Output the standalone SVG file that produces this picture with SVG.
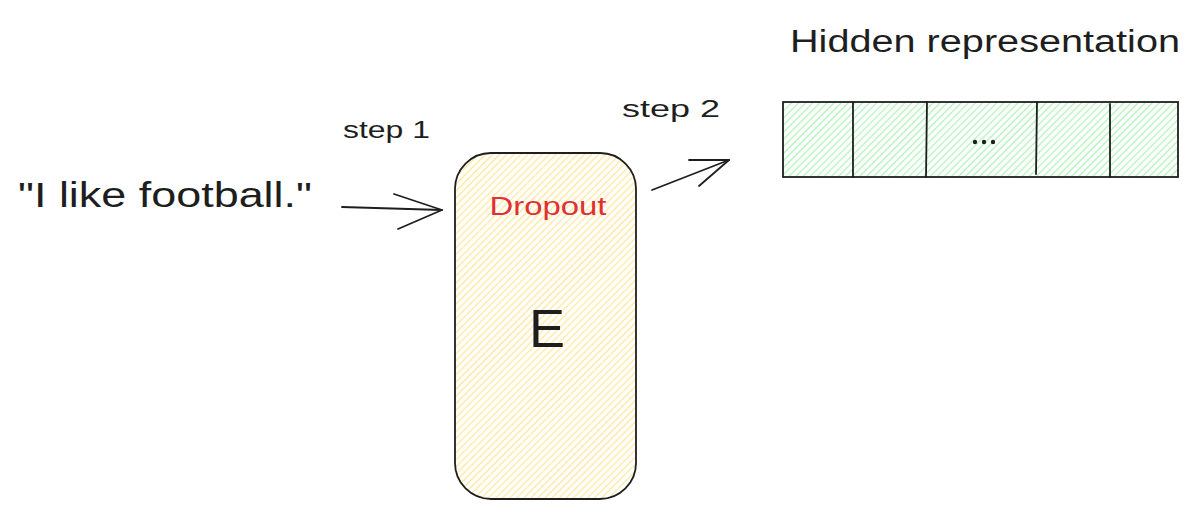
<svg xmlns="http://www.w3.org/2000/svg" width="1200" height="518" viewBox="0 0 1200 518">
  <defs>
    <pattern id="hatchY" patternUnits="userSpaceOnUse" width="5" height="5" patternTransform="rotate(-45)">
      <rect width="5" height="5" fill="#ffffff"/>
      <line x1="0" y1="2.5" x2="5" y2="2.5" stroke="#ffe79a" stroke-width="1.3"/>
    </pattern>
    <pattern id="hatchG" patternUnits="userSpaceOnUse" width="5" height="5" patternTransform="rotate(-45)">
      <rect width="5" height="5" fill="#ffffff"/>
      <line x1="0" y1="2.5" x2="5" y2="2.5" stroke="#b2f2bb" stroke-width="1.3"/>
    </pattern>
  </defs>
  <style>
    .hand { font-family: "Liberation Sans", "DejaVu Sans", sans-serif; fill: #1e1e1e; }
    .stroke { fill: none; stroke: #1e1e1e; stroke-width: 1.8; stroke-linecap: round; stroke-linejoin: round; }
    .boxY { fill: url(#hatchY); stroke: #1e1e1e; stroke-width: 1.8; }
    .boxG { fill: url(#hatchG); stroke: #1e1e1e; stroke-width: 1.8; }
  </style>
  <rect width="1200" height="518" fill="#ffffff"/>

  <g id="title">
    <text class="hand" x="790" y="52" font-size="31" textLength="390" lengthAdjust="spacingAndGlyphs">Hidden representation</text>
  </g>

  <g id="input">
    <text class="hand" x="18" y="207" font-size="35" textLength="294" lengthAdjust="spacingAndGlyphs">"I like football."</text>
  </g>

  <g id="label-step1">
    <text class="hand" x="343" y="138" font-size="24" textLength="87" lengthAdjust="spacingAndGlyphs">step 1</text>
  </g>

  <g id="label-step2">
    <text class="hand" x="622" y="117" font-size="24" textLength="98" lengthAdjust="spacingAndGlyphs">step 2</text>
  </g>

  <g id="encoder">
    <rect x="455" y="153" width="181" height="346" rx="36" ry="36" class="boxY"/>
    <text x="548" y="215" font-family="Liberation Sans, DejaVu Sans, sans-serif" font-size="25" fill="#e03131" text-anchor="middle" textLength="117" lengthAdjust="spacingAndGlyphs">Dropout</text>
    <text x="547" y="347" font-family="Liberation Sans, Arial, sans-serif" font-size="54" fill="#1e1e1e" text-anchor="middle">E</text>
  </g>

  <g id="hidden">
    <rect x="783" y="102" width="395" height="75" class="boxG"/>
    <line x1="853" y1="102" x2="853" y2="177" class="stroke"/>
    <line x1="927" y1="102" x2="926" y2="177" class="stroke"/>
    <line x1="1037" y1="102" x2="1036" y2="174" class="stroke"/>
    <line x1="1110" y1="104" x2="1110" y2="177" class="stroke"/>
    <circle cx="975" cy="142" r="2.2" fill="#1e1e1e"/>
    <circle cx="984" cy="142" r="2.2" fill="#1e1e1e"/>
    <circle cx="993" cy="142" r="2.2" fill="#1e1e1e"/>
  </g>

  <g id="connectors">
    <path class="stroke" d="M342 207 L442 210"/>
    <path class="stroke" d="M394 194 L442 210 M398 229 L442 210"/>
    <path class="stroke" d="M652 190 L729 160"/>
    <path class="stroke" d="M689 160 L729 160 M699 186 L729 160"/>
  </g>
</svg>
